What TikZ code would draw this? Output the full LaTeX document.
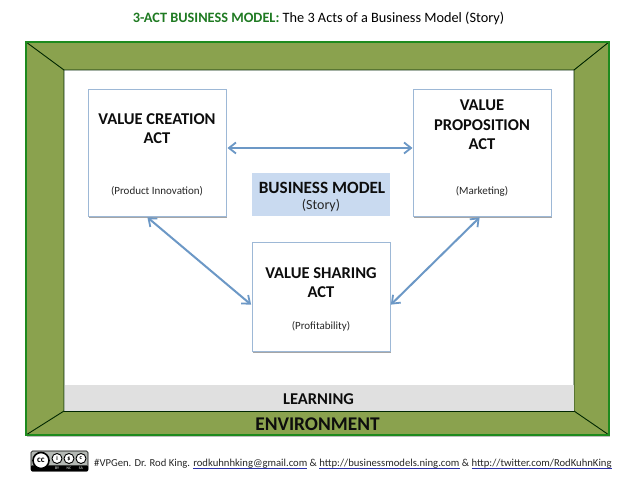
\documentclass[tikz,border=0pt]{standalone}
\usepackage{fontspec}
\setmainfont{Carlito}
\usetikzlibrary{arrows.meta,shadows}
\definecolor{olivefill}{HTML}{8AA24E}
\definecolor{frameline}{HTML}{1E8A1E}
\definecolor{titlegreen}{HTML}{1F7A22}
\definecolor{boxline}{HTML}{9DB8D6}
\definecolor{arrowblue}{HTML}{6C98C6}
\definecolor{storyblue}{HTML}{C9DAF0}
\definecolor{learngrey}{HTML}{E0E0E0}
\definecolor{linkblue}{HTML}{2A2FA8}
\definecolor{ccgrey}{HTML}{B4B8B4}
\newsavebox{\lkbox}
\newcommand{\lk}[1]{\sbox{\lkbox}{#1}\textcolor{linkblue}{\rlap{\rule[-1.3pt]{\wd\lkbox}{0.6pt}}\usebox{\lkbox}}}
\tikzset{
  px/.style={x=1pt,y=-1pt},
  actbox/.style={draw=boxline,line width=1pt,fill=white,minimum width=138pt,anchor=north west,
    drop shadow={shadow xshift=0.6pt,shadow yshift=-1.2pt,opacity=.35,fill=black}},
  head/.style={font=\fontsize{16.5}{19.5}\selectfont\bfseries,text=black!95,align=center,inner sep=0pt},
  small/.style={font=\fontsize{11}{13}\selectfont,text=black!85,align=center,inner sep=0pt},
  link/.style={draw=arrowblue,line width=2pt,{Straight Barb[length=7pt,width=11pt,line width=1.8pt]}-{Straight Barb[length=7pt,width=11pt,line width=1.8pt]},shorten <=0.5pt,shorten >=0.5pt},
  mitre/.style={draw=black!85!green,line width=0.9pt},
  cctext/.style={font=\fontsize{3.8}{4}\selectfont\bfseries,inner sep=0pt},
  ccring/.style={draw=black,line width=0.9pt,fill=white,circle,minimum size=10pt,inner sep=0pt,font=\fontsize{6}{6}\selectfont\bfseries}
}
\begin{document}
\begin{tikzpicture}[px]
\useasboundingbox (0,0) rectangle (638,478);
% title
\node[inner sep=0pt,font=\fontsize{14.3}{17}\selectfont] (title) at (318.5,18)
  {\textcolor{titlegreen}{\bfseries 3-ACT BUSINESS MODEL:} The 3 Acts of a Business Model (Story)};
% environment frame
\fill[black,opacity=.25] (27,43) rectangle (610,437);
\fill[olivefill] (26,42) rectangle (609,435);
\fill[white] (64,70) rectangle (574,411);
\draw[mitre] (26,42) -- (64,70) -- (574,70) -- (609,42);
\draw[mitre] (64,70) -- (64,411) -- (26,435);
\draw[mitre] (574,70) -- (574,411) -- (609,435);
\fill[learngrey] (64.5,385) rectangle (573.5,411);
\draw[mitre] (64,411) -- (574,411);
\draw[frameline,line width=1.2pt] (26,42) rectangle (609,435);
\node[inner sep=0pt,font=\fontsize{16.5}{19}\selectfont\bfseries,text=black!95] (learning) at (318.5,399) {LEARNING};
\node[inner sep=0pt,font=\fontsize{19.4}{22}\selectfont\bfseries,text=black!95] (env) at (317.5,424) {ENVIRONMENT};
% act boxes
\node[actbox,minimum height=127pt] (vc) at (88,89) {};
\node[actbox,minimum height=127pt] (vp) at (413,89) {};
\node[actbox,minimum height=109pt] (vs) at (251.5,242) {};
\node[fill=storyblue,minimum width=138pt,minimum height=43pt,anchor=north west,inner sep=0pt] (bm) at (252,173) {};
% box texts
\node[head] (vct) at (157,128.5) {VALUE CREATION\\ACT};
\node[small] (vcs) at (157,191) {(Product Innovation)};
\node[head] (vpt) at (482,125) {VALUE\\PROPOSITION\\ACT};
\node[small] (vps) at (482,191.5) {(Marketing)};
\node[head] (vst) at (321,282.5) {VALUE SHARING\\ACT};
\node[small] (vss) at (321,326) {(Profitability)};
\node[inner sep=0pt,font=\fontsize{17.2}{20}\selectfont\bfseries,text=black!95] (bmt) at (322,188) {BUSINESS MODEL};
\node[inner sep=0pt,font=\fontsize{14}{16}\selectfont,text=black!85] (bms) at (321,205.5) {(Story)};
% connectors
\coordinate (vcE) at (vc.east |- 0,148);
\coordinate (vpW) at (vp.west |- 0,148);
\coordinate (vcS) at (vc.south -| 147,0);
\coordinate (vpS) at (vp.south -| 480,0);
\coordinate (vsW) at (vs.west |- 0,305);
\coordinate (vsE) at (vs.east |- 0,305);
\draw[link] (vcE) -- (vpW);
\draw[link] (vcS) -- (vsW);
\draw[link] (vpS) -- (vsE);
% CC badge
\node[draw=black,line width=.6pt,fill=ccgrey,rounded corners=1.5pt,minimum width=57pt,minimum height=20pt,inner sep=0pt] (cc) at (59.5,461) {};
\fill[black,rounded corners=1pt] (31,465.5) rectangle (88,471.5);
\node[draw=black,line width=1.6pt,fill=white,circle,minimum size=16pt,inner sep=0pt,font=\fontsize{9}{9}\selectfont\bfseries] (ccl) at (41,460.5) {cc};
\node[ccring] (by) at (57,458.5) {i};
\node[ccring] (nc) at (69,458.5) {\$};
\node[ccring] (sa) at (81,458.5) {c};
\node[cctext,text=ccgrey] (byt) at (57,468.7) {BY};
\node[cctext,text=ccgrey] (nct) at (69,468.7) {NC};
\node[cctext,text=ccgrey] (sat) at (81,468.7) {SA};
% footer
\node[inner sep=0pt,anchor=base west,font=\fontsize{10.65}{14}\selectfont,text=black!85] (foot) at (94,467)
  {\#VPGen. Dr. Rod King. \lk{rodkuhnhking@gmail.com} \& \lk{http://businessmodels.ning.com} \& \lk{http://twitter.com/RodKuhnKing}};
\end{tikzpicture}
\end{document}
